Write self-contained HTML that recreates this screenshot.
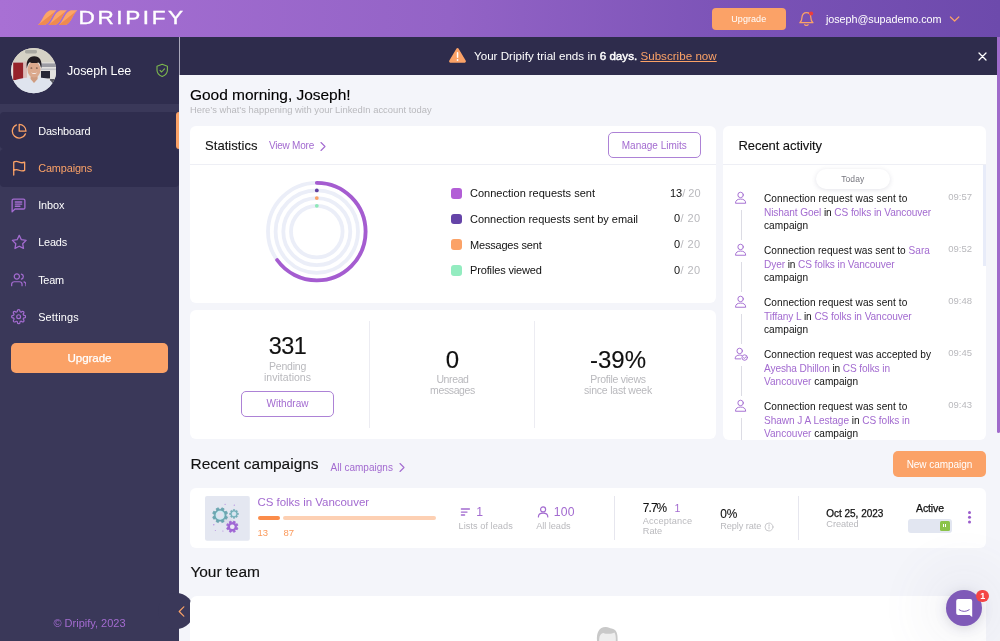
<!DOCTYPE html>
<html lang="en"><head>
<meta charset="utf-8">
<title>Dripify</title>
<style>
*{box-sizing:border-box;margin:0;padding:0}
html,body{width:1000px;height:641px;overflow:hidden;background:#f4f5fa;font-family:"Liberation Sans",sans-serif;color:#111}
#app{position:relative;width:1000px;height:641px;overflow:hidden;background:#f4f5fa}
.abs{position:absolute}
.t{position:absolute;white-space:nowrap;line-height:1}
.pu{color:#a36bd0}
.gr{color:#b9b9bd}
.or{color:#fba267}
/* header */
#hdr{position:absolute;left:0;top:0;width:1000px;height:37.4px;z-index:2;background:linear-gradient(90deg,#a870d4 0%,#9363c6 45%,#7a52b6 75%,#6d4aac 100%)}
#side{position:absolute;left:0;top:37px;width:179px;height:604px;background:#3a3859}
#banner{position:absolute;left:179px;top:37px;width:817.6px;height:37.5px;background:#2e2c4c}
.card{position:absolute;background:#fff;border-radius:6px}
.hv{-webkit-text-stroke:.14px currentColor}
.hv2{-webkit-text-stroke:.1px currentColor}
.btn-o{position:absolute;border:1px solid #ad82d6;border-radius:5px;color:#a36bd0;text-align:center;background:#fff}
.btn-f{position:absolute;background:#fba267;border-radius:4px;color:#fff;text-align:center}
.nav{position:absolute;left:38.2px;font-size:10.9px;color:#fff;line-height:1;white-space:nowrap}
.ico{position:absolute}
.act{position:absolute;left:764px;width:180px;font-size:10.1px;line-height:13.7px;color:#111}
.act span{color:#a36bd0}
.act i{font-style:normal;white-space:nowrap}
.tm{position:absolute;font-size:9.5px;color:#b9b9bd;line-height:1;white-space:nowrap}
</style>
</head>
<body>
<div id="app">

<!-- HEADER -->
<div id="hdr">
  <svg class="abs" style="left:0;top:0" width="200" height="37" viewBox="0 0 200 37">
    <g><path d="M38 25 C42.5 21.5 43.5 12.5 50 10.2 L56.6 10.2 C52 13.5 51 22.8 44.6 25 Z" fill="#fca567"></path><path d="M38 25 L56.6 10.2 C52 13.5 51 22.8 44.6 25 Z" fill="#ef8a4f"></path></g>
    <g transform="translate(10.4 0)"><path d="M38 25 C42.5 21.5 43.5 12.5 50 10.2 L56.6 10.2 C52 13.5 51 22.8 44.6 25 Z" fill="#fca567"></path><path d="M38 25 L56.6 10.2 C52 13.5 51 22.8 44.6 25 Z" fill="#ef8a4f"></path></g>
    <g transform="translate(20.8 0)"><path d="M38 25 C42.5 21.5 43.5 12.5 50 10.2 L56.6 10.2 C52 13.5 51 22.8 44.6 25 Z" fill="#fca567"></path><path d="M38 25 L56.6 10.2 C52 13.5 51 22.8 44.6 25 Z" fill="#ef8a4f"></path></g>
    <text transform="translate(78.6 24.3) scale(1.21 1)" font-family="Liberation Sans, sans-serif" font-size="18.7" fill="#fff" stroke="#fff" stroke-width="0.35" letter-spacing="2.1">DRIPIFY</text>
  </svg>
  <div class="btn-f" style="left: 711.5px; top: 7.5px; width: 74.5px; height: 22.5px; font-size: 9px; line-height: 22.5px; letter-spacing: 0.072px;">Upgrade</div>
  <svg class="abs" style="left:796px;top:9px" width="20" height="20" viewBox="796 9 20 20" fill="none" stroke="#fba267" stroke-width="1.25" stroke-linecap="round" stroke-linejoin="round">
    <path d="M799.8 22.7 C801.6 21.4 802 19.6 802 17.3 C802 14.5 803.8 12.7 806.4 12.7 C809 12.7 810.8 14.5 810.8 17.3 C810.8 19.6 811.2 21.4 813 22.7 Z"></path>
    <path d="M804.7 24.7 Q806.4 26.1 808.1 24.7"></path>
    <circle cx="811.1" cy="13.5" r="2.1" fill="#ef3b3b" stroke="none"></circle>
  </svg>
  <div class="t" style="left: 826px; top: 13.8px; font-size: 10.8px; color: rgb(255, 255, 255); letter-spacing: -0.065px;">joseph@supademo.com</div>
  <svg class="abs" style="left:948px;top:14px" width="14" height="10" viewBox="948 14 14 10" fill="none" stroke="#fba267" stroke-width="1.2" stroke-linecap="round" stroke-linejoin="round"><path d="M950.4 17 L954.6 21 L958.8 17"></path></svg>
</div>

<!-- SIDEBAR -->
<div id="side">
  <div class="abs" style="left:0;top:0;width:179px;height:67px;background:#2f2d4e"></div>
  <div class="abs" style="left:0;top:75px;width:179px;height:37.3px;background:#2f2d4e;border-radius:4px"></div><div class="abs" style="left:0;top:112.3px;width:179px;height:37.3px;background:#2f2d4e;border-radius:4px"></div><div class="abs" style="left:4px;top:100px;width:171px;height:20px;background:#2f2d4e"></div>
  <div class="abs" style="left:176px;top:75px;width:3px;height:37px;background:#fba267;border-radius:3px 0 0 3px"></div>
</div>

<!-- avatar -->
<svg class="abs" style="left:10.9px;top:48.4px" width="45.4" height="45.4" viewBox="0 0 45.4 45.4">
  <defs><clipPath id="av"><circle cx="22.7" cy="22.7" r="22.6"></circle></clipPath><filter id="bl" x="-10%" y="-10%" width="120%" height="120%"><feGaussianBlur stdDeviation="0.55"></feGaussianBlur></filter></defs>
  <g clip-path="url(#av)">
    <rect width="46" height="46" fill="#dad7cf"></rect>
    <g filter="url(#bl)">
    <rect x="-2" y="-2" width="50" height="16.5" fill="#d6d2c6"></rect>
    <rect x="14" y="2" width="12" height="3.4" rx="1.4" fill="#a9a8a2"></rect>
    <rect x="-2" y="14.5" width="50" height="34" fill="#e3e1df"></rect>
    <rect x="2.2" y="14.6" width="10.2" height="17.5" fill="#96212b"></rect>
    <rect x="12.4" y="13.5" width="3.6" height="17" fill="#dcbcb8"></rect>
    <rect x="29.5" y="15.4" width="17" height="3.6" fill="#9c9ca3"></rect>
    <rect x="29.5" y="20.5" width="17" height="1.6" fill="#c4c4c8"></rect>
    <rect x="30" y="23" width="9" height="7.4" fill="#272735"></rect>
    <rect x="39" y="31" width="8" height="4" fill="#55555f"></rect>
    <path d="M-2 46 V35 C4 31.5 12 30 17.5 29.6 L23 35 L28.5 29.6 C34 30 40 31.5 41.5 35.5 L44 46 Z" fill="#dfe4ee"></path>
    <path d="M19.6 26 H26.6 V31 L23 35 L19.6 31 Z" fill="#cf9c80"></path>
    <ellipse cx="23" cy="21.6" rx="6.5" ry="8" fill="#dba98d"></ellipse>
    <path d="M15.8 20.5 C14.8 12 18 8.2 23.2 8.2 C28.6 8.2 31.4 12 30.3 20.5 C29.6 17 28.6 15.2 27.6 14.4 C25 15.4 20.5 15.2 18.6 14.2 C17.2 15.4 16.4 17.4 15.8 20.5 Z" fill="#231d20"></path>
    <path d="M20 24.6 Q23.1 27.6 26.2 24.6 Q23.1 25.6 20 24.6Z" fill="#f6efec"></path>
    <ellipse cx="20.4" cy="20" rx="1" ry=".5" fill="#4a342c"></ellipse><ellipse cx="25.8" cy="20" rx="1" ry=".5" fill="#4a342c"></ellipse>
    </g>
  </g>
</svg>
<div class="t" style="left: 67px; top: 64.5px; font-size: 12.5px; color: rgb(255, 255, 255); letter-spacing: -0.036px;">Joseph Lee</div>
<svg class="abs" style="left:154px;top:62px" width="16" height="17" viewBox="154 62 16 17" fill="none" stroke="#7db84e" stroke-width="1.1" stroke-linecap="round" stroke-linejoin="round">
  <path d="M162.2 64.3 L167.4 66.2 V70.2 C167.4 73.2 165.2 75.2 162.2 76.5 C159.2 75.2 157 73.2 157 70.2 V66.2 Z"></path>
  <path d="M160 70.4 L161.6 72 L164.5 68.8"></path>
</svg>

<!-- nav icons -->
<svg class="ico" style="left:10.6px;top:122.7px" width="16.4" height="16.4" viewBox="0 0 24 24" fill="none" stroke="#fba267" stroke-width="1.9" stroke-linecap="round" stroke-linejoin="round"><path d="M21.21 15.89A10 10 0 1 1 8 2.83"></path><path d="M22 12A10 10 0 0 0 12 2v10z"></path></svg>
<div class="nav" style="top: 125.5px; letter-spacing: -0.127px;">Dashboard</div>
<svg class="ico" style="left:10.6px;top:159.8px" width="16.4" height="16.4" viewBox="0 0 24 24" fill="none" stroke="#fba267" stroke-width="1.9" stroke-linecap="round" stroke-linejoin="round"><path d="M4 15s1-1 4-1 5 2 8 2 4-1 4-1V3s-1 1-4 1-5-2-8-2-4 1-4 1z"></path><line x1="4" y1="22" x2="4" y2="15"></line></svg>
<div class="nav" style="top: 162.5px; color: rgb(251, 162, 103); letter-spacing: -0.129px;">Campaigns</div>
<svg class="ico" style="left:10.3px;top:196.6px" width="17" height="17" viewBox="0 0 24 24" fill="none" stroke="#a36bd0" stroke-width="1.9" stroke-linecap="round" stroke-linejoin="round"><path d="M21 15a2 2 0 0 1-2 2H7l-4 4V5a2 2 0 0 1 2-2h14a2 2 0 0 1 2 2z"></path><line x1="7.5" y1="7" x2="16.5" y2="7"></line><line x1="7.5" y1="10" x2="16.5" y2="10"></line><line x1="7.5" y1="13" x2="14" y2="13"></line></svg>
<div class="nav" style="top: 199.8px; letter-spacing: -0.101px;">Inbox</div>
<svg class="ico" style="left:10.5px;top:234.1px" width="16.5" height="16.5" viewBox="0 0 24 24" fill="none" stroke="#a36bd0" stroke-width="1.9" stroke-linecap="round" stroke-linejoin="round"><polygon points="12 2 15.09 8.26 22 9.27 17 14.14 18.18 21.02 12 17.77 5.82 21.02 7 14.14 2 9.27 8.91 8.26 12 2"></polygon></svg>
<div class="nav" style="top: 237.4px; letter-spacing: -0.197px;">Leads</div>
<svg class="ico" style="left:10.85px;top:272.1px" width="15.6" height="15.6" viewBox="0 0 24 24" fill="none" stroke="#a36bd0" stroke-width="1.9" stroke-linecap="round" stroke-linejoin="round"><path d="M17 21v-2a4 4 0 0 0-4-4H5a4 4 0 0 0-4 4v2"></path><circle cx="9" cy="7" r="4"></circle><path d="M23 21v-2a4 4 0 0 0-3-3.87"></path><path d="M16 3.13a4 4 0 0 1 0 7.75"></path></svg>
<div class="nav" style="top: 274.7px; letter-spacing: -0.269px;">Team</div>
<svg class="ico" style="left:11.1px;top:309.4px" width="15.3" height="15.3" viewBox="0 0 24 24" fill="none" stroke="#a36bd0" stroke-width="1.9" stroke-linecap="round" stroke-linejoin="round"><circle cx="12" cy="12" r="3"></circle><path d="M19.4 15a1.65 1.65 0 0 0 .33 1.82l.06.06a2 2 0 0 1 0 2.83 2 2 0 0 1-2.83 0l-.06-.06a1.65 1.65 0 0 0-1.82-.33 1.65 1.65 0 0 0-1 1.51V21a2 2 0 0 1-2 2 2 2 0 0 1-2-2v-.09A1.65 1.65 0 0 0 9 19.4a1.65 1.65 0 0 0-1.82.33l-.06.06a2 2 0 0 1-2.83 0 2 2 0 0 1 0-2.83l.06-.06a1.65 1.65 0 0 0 .33-1.82 1.65 1.65 0 0 0-1.51-1H3a2 2 0 0 1-2-2 2 2 0 0 1 2-2h.09A1.65 1.65 0 0 0 4.6 9a1.65 1.65 0 0 0-.33-1.82l-.06-.06a2 2 0 0 1 0-2.83 2 2 0 0 1 2.83 0l.06.06a1.65 1.65 0 0 0 1.82.33H9a1.65 1.65 0 0 0 1-1.51V3a2 2 0 0 1 2-2 2 2 0 0 1 2 2v.09a1.65 1.65 0 0 0 1 1.51 1.65 1.65 0 0 0 1.82-.33l.06-.06a2 2 0 0 1 2.83 0 2 2 0 0 1 0 2.83l-.06.06a1.65 1.65 0 0 0-.33 1.82V9a1.65 1.65 0 0 0 1.51 1H21a2 2 0 0 1 2 2 2 2 0 0 1-2 2h-.09a1.65 1.65 0 0 0-1.51 1z"></path></svg>
<div class="nav" style="top: 312px; letter-spacing: 0.152px;">Settings</div>
<div class="btn-f" style="left: 11px; top: 343px; width: 157px; height: 30px; font-size: 11.6px; line-height: 30px; border-radius: 5px; -webkit-text-stroke: 0.25px rgb(255, 255, 255); letter-spacing: -0.075px;">Upgrade</div>
<div class="t pu" style="left:0;width:179px;text-align:center;top:617.5px;font-size:11px">© Dripify, 2023</div>
<div class="abs" style="left:158px;top:593px;width:36px;height:36px;border-radius:18px;background:#3a3859"></div>
<svg class="abs" style="left:177px;top:604.5px" width="9" height="13" viewBox="0 0 9 13" fill="none" stroke="#fba267" stroke-width="1.2" stroke-linecap="round" stroke-linejoin="round"><path d="M6.8 1.8 L2.2 6.5 L6.8 11.2"></path></svg>

<!-- BANNER -->
<div id="banner">
  <svg class="abs" style="left:269px;top:9.5px" width="19" height="17" viewBox="0 0 19 17"><path d="M9.5 1 Q10.3 1 10.8 1.9 L17.8 13.8 Q18.4 15.5 16.8 15.7 H2.2 Q0.6 15.5 1.2 13.8 L8.2 1.9 Q8.7 1 9.5 1Z" fill="#fba267"></path><rect x="8.8" y="5" width="1.5" height="6" rx=".7" fill="#fff"></rect><circle cx="9.55" cy="13" r=".9" fill="#fff"></circle></svg>
  <div class="t" style="left: 295px; top: 12.5px; font-size: 11.6px; color: rgb(255, 255, 255); letter-spacing: 0.017px;">Your Dripify trial ends in <b style="font-weight:400;-webkit-text-stroke:.45px #fff">6 days.</b> <span style="color:#fba267;text-decoration:underline">Subscribe now</span></div>
  <svg class="abs" style="left:798.5px;top:15px" width="9" height="9" viewBox="0 0 9 9" stroke="#fff" stroke-width="1.3" stroke-linecap="round"><path d="M1 1 L8 8 M8 1 L1 8"></path></svg>
</div>

<div class="abs" style="left:179px;top:37px;width:1px;height:37.5px;background:#a9a8bb"></div>
<!-- scrollbar -->
<div class="abs" style="left:996.7px;top:37px;width:3.3px;height:396px;background:#a06bcb;border-radius:0 0 2px 2px"></div>

<!-- GREETING -->
<div class="t hv" style="left: 190px; top: 86.8px; font-size: 15.5px; color: rgb(0, 0, 0); letter-spacing: -0.026px;">Good morning, Joseph!</div>
<div class="t gr" style="left: 190px; top: 105.1px; font-size: 9.4px; letter-spacing: 0.002px;">Here’s what’s happening with your LinkedIn account today</div>

<!-- STATISTICS CARD -->
<div class="card" style="left:190px;top:126px;width:525.5px;height:176.5px"></div>
<div class="abs" style="left:190px;top:164px;width:525.5px;height:1px;background:#eeeff5"></div>
<div class="t hv2" style="left: 205px; top: 138.5px; font-size: 13px; letter-spacing: 0.051px;">Statistics</div>
<div class="t pu" style="left: 269px; top: 141px; font-size: 10px; letter-spacing: -0.231px;">View More</div>
<svg class="abs" style="left:319px;top:140.5px" width="8" height="11" viewBox="0 0 8 11" fill="none" stroke="#a36bd0" stroke-width="1.1" stroke-linecap="round" stroke-linejoin="round"><path d="M2 1.5 L6 5.5 L2 9.5"></path></svg>
<div class="btn-o" style="left: 607.5px; top: 132px; width: 93.5px; height: 26px; font-size: 10px; line-height: 25.8px; letter-spacing: -0.01px;">Manage Limits</div>

<svg class="abs" style="left:256px;top:170px" width="122" height="122" viewBox="0 0 122 122" fill="none">
  <g stroke="#ebeef8" stroke-width="3.8">
    <circle cx="60.8" cy="61.6" r="48.8"></circle>
    <circle cx="60.8" cy="61.6" r="41.2"></circle>
    <circle cx="60.8" cy="61.6" r="33.5"></circle>
    <circle cx="60.8" cy="61.6" r="25.8"></circle>
  </g>
  <circle cx="60.8" cy="61.6" r="48.8" stroke="#a55cd0" stroke-width="3.8" stroke-linecap="round" stroke-dasharray="199.3 400" transform="rotate(-90 60.8 61.6)"></circle>
  <circle cx="60.8" cy="20.4" r="1.9" fill="#5f3f9f"></circle>
  <circle cx="60.8" cy="28.1" r="1.9" fill="#fba267"></circle>
  <circle cx="60.8" cy="35.8" r="1.9" fill="#8ee8b8"></circle>
</svg>

<div class="abs" style="left:451px;top:188px;width:10.5px;height:10.5px;border-radius:3px;background:#b25ed6"></div>
<div class="abs" style="left:451px;top:213.7px;width:10.5px;height:10.5px;border-radius:3px;background:#6544a8"></div>
<div class="abs" style="left:451px;top:239.4px;width:10.5px;height:10.5px;border-radius:3px;background:#fba267"></div>
<div class="abs" style="left:451px;top:265.1px;width:10.5px;height:10.5px;border-radius:3px;background:#93ecc0"></div>
<div class="t" style="left: 470px; top: 187.7px; font-size: 11px; letter-spacing: 0.011px;">Connection requests sent</div>
<div class="t" style="left: 470px; top: 213.9px; font-size: 11px; letter-spacing: -0.024px;">Connection requests sent by email</div>
<div class="t" style="left: 470px; top: 239.6px; font-size: 11px; letter-spacing: -0.191px;">Messages sent</div>
<div class="t" style="left: 470px; top: 264.8px; font-size: 11px; letter-spacing: -0.144px;">Profiles viewed</div>
<div class="t" style="right: 299.5px; top: 187.5px; font-size: 11px; letter-spacing: -0.002px;">13<span class="gr">/ 20</span></div>
<div class="t" style="right: 299.5px; top: 213.2px; font-size: 11px; letter-spacing: 0.426px;">0<span class="gr">/ 20</span></div>
<div class="t" style="right: 299.5px; top: 238.9px; font-size: 11px; letter-spacing: 0.426px;">0<span class="gr">/ 20</span></div>
<div class="t" style="right: 299.5px; top: 264.6px; font-size: 11px; letter-spacing: 0.426px;">0<span class="gr">/ 20</span></div>

<!-- NUMBERS CARD -->
<div class="card" style="left:190px;top:310.2px;width:525.5px;height:129.3px"></div>
<div class="abs" style="left:369px;top:321px;width:1px;height:107px;background:#ececf2"></div>
<div class="abs" style="left:534px;top:321px;width:1px;height:107px;background:#ececf2"></div>
<div class="t hv" style="left: 237.5px; width: 100px; text-align: center; top: 335.1px; font-size: 23.4px; letter-spacing: -0.493px;">331</div>
<div class="t gr" style="left:237.5px;width:100px;text-align:center;top:360.7px;font-size:10.5px;line-height:11.5px;white-space:normal"><span class="fit" style="letter-spacing: -0.207px;">Pending</span><br><span class="fit" style="letter-spacing: 0.028px;">invitations</span></div>
<div class="btn-o" style="left: 241px; top: 391px; width: 93px; height: 26.3px; font-size: 10px; line-height: 24px; letter-spacing: 0.055px;">Withdraw</div>
<div class="t hv" style="left:402.5px;width:100px;text-align:center;top:348px;font-size:24px">0</div>
<div class="t gr" style="left:402.5px;width:100px;text-align:center;top:373.8px;font-size:10.5px;line-height:11.4px;white-space:normal"><span class="fit" style="letter-spacing: -0.373px;">Unread</span><br><span class="fit" style="letter-spacing: -0.381px;">messages</span></div>
<div class="t hv" style="left: 558px; width: 120px; text-align: center; top: 348px; font-size: 24px; letter-spacing: 0.02px;">-39%</div>
<div class="t gr" style="left:558px;width:120px;text-align:center;top:373.8px;font-size:10.5px;line-height:11.4px;white-space:normal"><span class="fit" style="letter-spacing: -0.275px;">Profile views</span><br><span class="fit" style="letter-spacing: -0.214px;">since last week</span></div>

<!-- RECENT ACTIVITY -->
<div class="card" style="left:723px;top:126px;width:263px;height:313.5px;overflow:hidden"></div>
<div class="abs" style="left:723px;top:164px;width:263px;height:1px;background:#eeeff5"></div>
<div class="t hv2" style="left: 738.5px; top: 138.5px; font-size: 13px; letter-spacing: -0.072px;">Recent activity</div>
<div class="abs" style="left:983px;top:164.5px;width:3px;height:101px;background:#e8ecf9"></div>
<div class="abs" style="left:815.5px;top:169px;width:74.5px;height:19.5px;border-radius:10px;background:#fff;box-shadow:0 1px 5px rgba(60,60,100,.14)"></div>
<div class="t" style="left: 815.5px; width: 74.5px; text-align: center; top: 174.5px; font-size: 8.5px; color: rgb(119, 119, 127); letter-spacing: 0.092px;">Today</div>
<div id="acts" style="position:absolute;left:723px;top:126px;width:263px;height:313.5px;overflow:hidden">
  <div class="abs" style="left:17.8px;top:83.7px;width:1px;height:30px;background:#dcdce4"></div>
  <svg class="abs" style="left:11px;top:65.0px" width="13.2" height="13.2" viewBox="0 0 14 14" fill="none" stroke="#a36bd0" stroke-width="1" stroke-linecap="round" stroke-linejoin="round"><circle cx="7" cy="4.2" r="2.9"></circle><path d="M1.6 12.6 C1.6 9.6 4 8.6 7 8.6 C10 8.6 12.4 9.6 12.4 12.6 Z"></path></svg>
  <div class="act" style="left:41px;top:65.8px"><i style="letter-spacing: 0.064px;">Connection request was sent to</i><br><i style="letter-spacing: -0.093px;"><span>Nishant Goel</span> in <span>CS folks in Vancouver</span></i><br><i style="letter-spacing: 0.056px;">campaign</i></div>
  <div class="tm" style="right:14px;top:65.9px">09:57</div>
  <div class="abs" style="left:17.8px;top:135.7px;width:1px;height:30px;background:#dcdce4"></div>
  <svg class="abs" style="left:11px;top:117.0px" width="13.2" height="13.2" viewBox="0 0 14 14" fill="none" stroke="#a36bd0" stroke-width="1" stroke-linecap="round" stroke-linejoin="round"><circle cx="7" cy="4.2" r="2.9"></circle><path d="M1.6 12.6 C1.6 9.6 4 8.6 7 8.6 C10 8.6 12.4 9.6 12.4 12.6 Z"></path></svg>
  <div class="act" style="left:41px;top:117.8px"><i style="letter-spacing: 0.011px;">Connection request was sent to <span>Sara</span></i><br><i style="letter-spacing: -0.1px;"><span>Dyer</span> in <span>CS folks in Vancouver</span></i><br><i style="letter-spacing: 0.056px;">campaign</i></div>
  <div class="tm" style="right:14px;top:117.9px">09:52</div>
  <div class="abs" style="left:17.8px;top:187.7px;width:1px;height:30px;background:#dcdce4"></div>
  <svg class="abs" style="left:11px;top:169.0px" width="13.2" height="13.2" viewBox="0 0 14 14" fill="none" stroke="#a36bd0" stroke-width="1" stroke-linecap="round" stroke-linejoin="round"><circle cx="7" cy="4.2" r="2.9"></circle><path d="M1.6 12.6 C1.6 9.6 4 8.6 7 8.6 C10 8.6 12.4 9.6 12.4 12.6 Z"></path></svg>
  <div class="act" style="left:41px;top:169.8px"><i style="letter-spacing: 0.064px;">Connection request was sent to</i><br><i style="letter-spacing: -0.066px;"><span>Tiffany L</span> in <span>CS folks in Vancouver</span></i><br><i style="letter-spacing: 0.056px;">campaign</i></div>
  <div class="tm" style="right:14px;top:169.9px">09:48</div>
  <div class="abs" style="left:17.8px;top:239.7px;width:1px;height:30px;background:#dcdce4"></div>
  <svg class="abs" style="left:11px;top:221.0px" width="15.1" height="14.15" viewBox="0 0 16 15" fill="none" stroke="#a36bd0" stroke-width="1" stroke-linecap="round" stroke-linejoin="round"><circle cx="6" cy="4.2" r="2.9"></circle><path d="M7.2 12.6 H1.2 C1.2 9.6 3.2 8.6 6 8.6 C6.8 8.6 7.4 8.7 8 8.9"></path><circle cx="11.3" cy="11.2" r="2.9"></circle><path d="M10 11.2 L11 12.2 L12.7 10.3"></path></svg>
  <div class="act" style="left:41px;top:221.8px"><i style="letter-spacing: 0.044px;">Connection request was accepted by</i><br><i style="letter-spacing: -0.101px;"><span>Ayesha Dhillon</span> in <span>CS folks in</span></i><br><i style="letter-spacing: -0.005px;"><span>Vancouver</span> campaign</i></div>
  <div class="tm" style="right:14px;top:221.9px">09:45</div>
  <div class="abs" style="left:17.8px;top:291.7px;width:1px;height:30px;background:#dcdce4"></div>
  <svg class="abs" style="left:11px;top:273.0px" width="13.2" height="13.2" viewBox="0 0 14 14" fill="none" stroke="#a36bd0" stroke-width="1" stroke-linecap="round" stroke-linejoin="round"><circle cx="7" cy="4.2" r="2.9"></circle><path d="M1.6 12.6 C1.6 9.6 4 8.6 7 8.6 C10 8.6 12.4 9.6 12.4 12.6 Z"></path></svg>
  <div class="act" style="left:41px;top:273.8px"><i style="letter-spacing: 0.064px;">Connection request was sent to</i><br><i style="letter-spacing: -0.054px;"><span>Shawn J A Lestage</span> in <span>CS folks in</span></i><br><i style="letter-spacing: -0.005px;"><span>Vancouver</span> campaign</i></div>
  <div class="tm" style="right:14px;top:273.9px">09:43</div>
</div>

<!-- RECENT CAMPAIGNS -->
<div class="t hv" style="left: 190.5px; top: 456px; font-size: 15.5px; letter-spacing: -0.018px;">Recent campaigns</div>
<div class="t pu" style="left: 330.5px; top: 462.8px; font-size: 10px; letter-spacing: 0.011px;">All campaigns</div>
<svg class="abs" style="left:397.5px;top:461.5px" width="8" height="11" viewBox="0 0 8 11" fill="none" stroke="#a36bd0" stroke-width="1.1" stroke-linecap="round" stroke-linejoin="round"><path d="M2 1.5 L6 5.5 L2 9.5"></path></svg>
<div class="btn-f" style="left: 893px; top: 451px; width: 93px; height: 26px; font-size: 10px; line-height: 27.2px; border-radius: 5px; letter-spacing: -0.04px;">New campaign</div>

<div class="card" style="left:190px;top:488px;width:796px;height:59.5px"></div>
<svg class="abs" style="left:205.2px;top:495.7px" width="45" height="45" viewBox="0 0 45 45">
  <rect width="44.8" height="44.8" rx="2" fill="#e4e7f1"></rect>
  <path d="M14 22 L26 34 L32 28 L20 16Z" fill="#dcdfeb"></path>
  <path fill-rule="evenodd" fill="#6ba6b0" stroke="#6ba6b0" stroke-width="0.8" stroke-linejoin="round" d="M20.94 20.07 L22.49 20.97 L21.58 23.17 L19.84 22.71 L18.61 23.94 L19.07 25.68 L16.87 26.59 L15.97 25.04 L14.23 25.04 L13.33 26.59 L11.13 25.68 L11.59 23.94 L10.36 22.71 L8.62 23.17 L7.71 20.97 L9.26 20.07 L9.26 18.33 L7.71 17.43 L8.62 15.23 L10.36 15.69 L11.59 14.46 L11.13 12.72 L13.33 11.81 L14.23 13.36 L15.97 13.36 L16.87 11.81 L19.07 12.72 L18.61 14.46 L19.84 15.69 L21.58 15.23 L22.49 17.43 L20.94 18.33Z M10.50 19.20 a4.60 4.60 0 1 0 9.20 0 a4.60 4.60 0 1 0 -9.20 0Z"></path>
  <circle cx="15.10" cy="19.20" r="3.9" fill="#e0e2ee" stroke="#c5edf3" stroke-width="1.1"></circle>
  <path fill-rule="evenodd" fill="#74aeb8" stroke="#74aeb8" stroke-width="0.6" stroke-linejoin="round" d="M32.30 17.07 L33.44 17.20 L33.44 18.60 L32.30 18.73 L31.92 19.65 L32.64 20.55 L31.65 21.54 L30.75 20.82 L29.83 21.20 L29.70 22.34 L28.30 22.34 L28.17 21.20 L27.25 20.82 L26.35 21.54 L25.36 20.55 L26.08 19.65 L25.70 18.73 L24.56 18.60 L24.56 17.20 L25.70 17.07 L26.08 16.15 L25.36 15.25 L26.35 14.26 L27.25 14.98 L28.17 14.60 L28.30 13.46 L29.70 13.46 L29.83 14.60 L30.75 14.98 L31.65 14.26 L32.64 15.25 L31.92 16.15Z M26.70 17.90 a2.30 2.30 0 1 0 4.60 0 a2.30 2.30 0 1 0 -4.60 0Z"></path>
  <circle cx="29.00" cy="17.90" r="1.9" fill="#e0e2ee" stroke="#c5edf3" stroke-width="0.7"></circle>
  <path fill-rule="evenodd" fill="#a067d4" stroke="#a067d4" stroke-width="0.8" stroke-linejoin="round" d="M31.55 31.33 L32.94 32.05 L32.25 33.73 L30.75 33.26 L29.86 34.15 L30.33 35.65 L28.65 36.34 L27.93 34.95 L26.67 34.95 L25.95 36.34 L24.27 35.65 L24.74 34.15 L23.85 33.26 L22.35 33.73 L21.66 32.05 L23.05 31.33 L23.05 30.07 L21.66 29.35 L22.35 27.67 L23.85 28.14 L24.74 27.25 L24.27 25.75 L25.95 25.06 L26.67 26.45 L27.93 26.45 L28.65 25.06 L30.33 25.75 L29.86 27.25 L30.75 28.14 L32.25 27.67 L32.94 29.35 L31.55 30.07Z M25.00 30.70 a2.30 2.30 0 1 0 4.60 0 a2.30 2.30 0 1 0 -4.60 0Z"></path>
  <circle cx="27.30" cy="30.70" r="2.3" fill="#ece9f6"></circle>
  <g fill="#b48be0"><circle cx="20.1" cy="8.3" r=".6"></circle><circle cx="29.3" cy="9.2" r=".6"></circle><circle cx="8.8" cy="28.8" r=".7"></circle><circle cx="17.9" cy="35" r=".6"></circle><circle cx="10.3" cy="34.5" r=".5"></circle></g>
</svg>
<div class="t pu" style="left: 257.5px; top: 496.9px; font-size: 11.5px; letter-spacing: -0.034px;">CS folks in Vancouver</div>
<div class="abs" style="left:257.5px;top:515.8px;width:22.5px;height:4px;border-radius:2px;background:#fb8c4a"></div>
<div class="abs" style="left:283px;top:515.8px;width:153px;height:4px;border-radius:2px;background:#fdd0b3"></div>
<div class="t" style="left:257.5px;top:527.5px;font-size:9.5px;color:#fb9a5c">13</div>
<div class="t" style="left:283.5px;top:527.5px;font-size:9.5px;color:#fb9a5c">87</div>

<div class="t pu" style="left:476.2px;top:505.7px;font-size:12.2px">1</div>
<svg class="abs" style="left:459px;top:506px" width="13" height="12" viewBox="0 0 13 12" stroke="#a36bd0" stroke-width="1.35" stroke-linecap="round"><path d="M2.4 3 H10.4 M2.4 6.1 H8 M2.4 9 H5.6"></path></svg>
<div class="t gr" style="left: 458.5px; top: 522px; font-size: 9.2px; letter-spacing: 0.05px;">Lists of leads</div>
<div class="t pu" style="left: 553.7px; top: 505.7px; font-size: 12.2px; letter-spacing: 0.263px;">100</div>
<svg class="abs" style="left:536px;top:505px" width="14" height="14" viewBox="0 0 14 14" fill="none" stroke="#a36bd0" stroke-width="1.2" stroke-linecap="round"><circle cx="7.1" cy="4.4" r="2.5"></circle><path d="M2.4 12 C2.4 9.3 4.3 8.2 7.1 8.2 C9.9 8.2 11.8 9.3 11.8 12"></path></svg>
<div class="t gr" style="left: 536.3px; top: 522px; font-size: 9.2px; letter-spacing: -0.063px;">All leads</div>
<div class="abs" style="left:613.5px;top:496px;width:1px;height:44px;background:#e6e6ee"></div>
<div class="t hv2" style="left: 642.8px; top: 502.7px; font-size: 11.9px; letter-spacing: -0.917px;">7.7%</div>
<div class="t pu" style="left:674.4px;top:502.6px;font-size:10.6px">1</div>
<div class="t gr" style="left:642.8px;top:515.5px;font-size:9.2px;line-height:10px;white-space:normal;width:60px"><span class="fit" style="letter-spacing: 0.156px;">Acceptance</span><br>Rate</div>
<div class="t hv2" style="left: 720.3px; top: 508.6px; font-size: 11.9px; letter-spacing: -0.258px;">0%</div>
<div class="t gr" style="left: 720.3px; top: 521.8px; font-size: 9.2px; letter-spacing: -0.103px;">Reply rate</div>
<svg class="abs" style="left:763.7px;top:521.6px" width="10" height="10" viewBox="0 0 10 10" fill="none" stroke="#b9b9bd" stroke-width=".75" stroke-linecap="round"><circle cx="5" cy="5" r="4"></circle><path d="M5 4.8 V6.9"></path><circle cx="5" cy="3.1" r=".3" fill="#b9b9bd" stroke-width=".4"></circle></svg>
<div class="abs" style="left:797.5px;top:496px;width:1px;height:44px;background:#e6e6ee"></div>
<div class="t" style="left: 826.3px; top: 508.6px; font-size: 10px; -webkit-text-stroke: 0.25px rgb(17, 17, 17); letter-spacing: -0.023px;">Oct 25, 2023</div>
<div class="t gr" style="left: 826.3px; top: 519.5px; font-size: 9.2px; letter-spacing: -0.044px;">Created</div>
<div class="t" style="left: 916px; top: 503.4px; font-size: 10.5px; -webkit-text-stroke: 0.25px rgb(17, 17, 17); letter-spacing: -0.108px;">Active</div>
<div class="abs" style="left:907.5px;top:519px;width:44.5px;height:14px;border-radius:3px;background:#e2e6f1"></div>
<div class="abs" style="left:939.5px;top:521px;width:10.5px;height:9.7px;border-radius:1.5px;background:#8bc34a"></div>
<div class="abs" style="left:943.4px;top:524.3px;width:1px;height:3px;background:#fff"></div><div class="abs" style="left:945.2px;top:524.3px;width:1px;height:3px;background:#fff"></div>
<div class="abs" style="left:967.6px;top:510.5px;width:3px;height:3px;border-radius:2px;background:#9a5ccb;box-shadow:0 4.8px 0 #9a5ccb,0 9.6px 0 #9a5ccb"></div>

<!-- YOUR TEAM -->
<div class="t hv" style="left: 190.5px; top: 564px; font-size: 15.5px; letter-spacing: -0.093px;">Your team</div>
<div class="card" style="left:190px;top:596px;width:796px;height:60px;border-radius:7px 7px 0 0"></div>

<svg class="abs" style="left:590px;top:620px" width="36" height="24" viewBox="590 620 36 24"><path d="M597 641 C596.4 633 599 627.2 605.5 627.1 C608.5 627 610 628.4 611.5 628.6 C616.5 629.2 618 634 617.6 641 Z" fill="#c9c9c9"></path><path d="M599.2 641 C599 636.5 600.5 633.5 603.5 633 C606.5 634.4 612.5 634 614.4 632.6 C615.6 634.5 616 637.5 615.8 641 Z" fill="#eeeeee"></path></svg>
<!-- chat -->
<div class="abs" style="left:946.3px;top:590px;width:35.8px;height:35.8px;border-radius:18px;background:#7f5ab8;box-shadow:0 2px 12px rgba(80,80,120,.2),0 0 50px 26px rgba(110,110,140,.06)"></div>
<svg class="abs" style="left:946px;top:590px" width="36" height="36" viewBox="946 590 36 36"><path d="M958.2 598.9 H970.2 Q972.2 598.9 972.2 600.9 V616.9 L969.6 615 H958.2 Q956.2 615 956.2 613 V600.9 Q956.2 598.9 958.2 598.9Z" fill="#fff"></path><path d="M959.2 609.8 Q964.2 613.2 969.2 609.8" fill="none" stroke="#7f5ab8" stroke-width="1" stroke-linecap="round"></path></svg>
<div class="abs" style="left:976.4px;top:589.7px;width:12.6px;height:12.6px;border-radius:7px;background:#f44545"></div>
<div class="t" style="left:976.4px;width:12.6px;text-align:center;top:591.5px;font-size:9px;color:#fff;font-weight:700">1</div>

</div>


</body></html>
